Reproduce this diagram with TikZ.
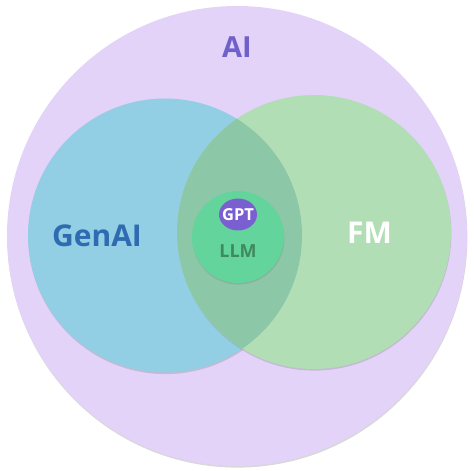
\documentclass[tikz,border=0pt]{standalone}
\usepackage{fontspec}
\setmainfont{Open Sans}
\usepackage{tikz}
\usetikzlibrary{shapes.geometric, shadows, positioning, calc}
\definecolor{aiBg}{RGB}{227, 211, 249}
\definecolor{aiFg}{RGB}{112, 96, 201}
\definecolor{genBg}{RGB}{147, 207, 228}
\definecolor{genFg}{RGB}{47, 107, 176}
\definecolor{fmBg}{RGB}{178, 222, 181}
\definecolor{lensBg}{RGB}{140, 200, 168}
\definecolor{llmBg}{RGB}{99, 212, 155}
\definecolor{llmFg}{RGB}{62, 138, 94}
\definecolor{gptBg}{RGB}{122, 95, 209}
\tikzstyle{set} = [circle, inner sep=0pt, draw=none, drop shadow={opacity=0.3, shadow xshift=0.4pt, shadow yshift=-1.6pt}]
\tikzstyle{txt} = [inner sep=0pt, anchor=base]

\begin{document}
\begin{tikzpicture}[x=1pt, y=1pt]
\useasboundingbox [fill=white] (0,0) rectangle (474,471);

\node (ai) [set, fill=aiBg, minimum size=460pt] at (237,235) {};
\node (genai) [set, fill=genBg, minimum size=274pt] at (165,235.5) {};
\node (fm) [set, fill=fmBg, minimum size=274pt] at (314,239) {};

% overlap of GenAI and FM
\begin{scope}
\clip (genai.center) circle (137);
\fill [lensBg] (fm.center) circle (137);
\end{scope}

\node (llm) [set, fill=llmBg, minimum size=92pt] at (238,234) {};
\node (gpt) [ellipse, inner sep=0pt, fill=gptBg, minimum width=38pt, minimum height=32pt] at (238,256.5) {};

\node (aiText) [txt, text=aiFg, font=\bfseries\fontsize{29}{29}\selectfont] at (237,413) {AI};
\node (genaiText) [txt, text=genFg, font=\bfseries\fontsize{30}{30}\selectfont] at (97,224.5) {GenAI};
\node (fmText) [txt, text=white, font=\bfseries\fontsize{30}{30}\selectfont] at (369.5,227.5) {FM};
\node (llmText) [txt, text=llmFg, font=\bfseries\fontsize{18}{18}\selectfont] at (238,213.5) {LLM};
\node (gptText) [txt, text=white, font=\bfseries\fontsize{16.5}{16.5}\selectfont] at (238,250.5) {GPT};

\end{tikzpicture}
\end{document}
